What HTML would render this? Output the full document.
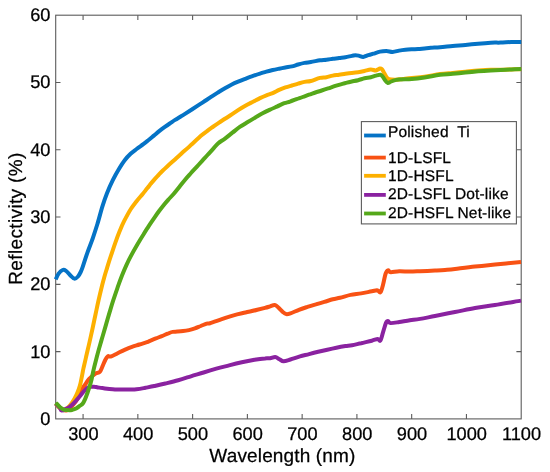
<!DOCTYPE html>
<html><head><meta charset="utf-8"><style>
html,body{margin:0;padding:0;background:#fff;width:550px;height:472px;overflow:hidden}
svg{display:block}
</style></head><body>
<svg width="550" height="472" viewBox="0 0 550 472" text-rendering="geometricPrecision">
<rect width="550" height="472" fill="#fff"/>
<g stroke="#5c5c5c" stroke-width="1.1" fill="none">
<rect x="55.70" y="15.20" width="465.50" height="403.70"/>
<path d="M83.08 418.90 V414.10 M83.08 15.20 V20.00"/>
<path d="M137.85 418.90 V414.10 M137.85 15.20 V20.00"/>
<path d="M192.61 418.90 V414.10 M192.61 15.20 V20.00"/>
<path d="M247.38 418.90 V414.10 M247.38 15.20 V20.00"/>
<path d="M302.14 418.90 V414.10 M302.14 15.20 V20.00"/>
<path d="M356.91 418.90 V414.10 M356.91 15.20 V20.00"/>
<path d="M411.67 418.90 V414.10 M411.67 15.20 V20.00"/>
<path d="M466.44 418.90 V414.10 M466.44 15.20 V20.00"/>
<path d="M55.70 351.62 H60.50 M521.20 351.62 H516.40"/>
<path d="M55.70 284.33 H60.50 M521.20 284.33 H516.40"/>
<path d="M55.70 217.05 H60.50 M521.20 217.05 H516.40"/>
<path d="M55.70 149.77 H60.50 M521.20 149.77 H516.40"/>
<path d="M55.70 82.48 H60.50 M521.20 82.48 H516.40"/>
</g>
<g fill="none" stroke-width="4.0" stroke-linejoin="round" stroke-linecap="butt">
<path d="M55.7 279.4 C56.2 278.4 57.4 275.2 58.6 273.6 C59.8 272.0 61.5 270.5 62.7 270.0 C63.9 269.5 64.8 270.0 66.0 270.8 C67.2 271.6 68.6 273.7 70.0 275.0 C71.4 276.3 73.1 278.4 74.4 278.6 C75.7 278.9 77.0 277.6 78.0 276.5 C79.0 275.4 79.9 273.6 80.7 272.0 C81.5 270.4 81.8 269.7 82.8 266.7 C83.8 263.7 85.3 258.7 87.0 253.8 C88.7 249.0 91.3 242.6 93.0 237.6 C94.7 232.6 95.8 229.2 97.4 224.0 C99.0 218.8 100.9 211.2 102.5 206.1 C104.1 201.0 105.2 197.7 106.9 193.4 C108.6 189.1 110.8 184.1 112.8 180.1 C114.8 176.1 116.8 172.5 118.8 169.2 C120.8 165.9 122.7 162.8 124.7 160.2 C126.7 157.6 128.6 155.7 130.6 153.8 C132.6 151.9 134.5 150.6 136.6 149.0 C138.7 147.4 141.3 145.6 143.3 144.1 C145.3 142.6 146.8 141.4 148.6 140.0 C150.4 138.6 152.1 137.1 153.9 135.6 C155.7 134.1 157.4 132.6 159.2 131.2 C161.0 129.8 162.7 128.5 164.5 127.2 C166.3 125.9 168.0 124.7 169.8 123.5 C171.6 122.3 173.3 121.0 175.1 119.9 C176.9 118.8 178.7 117.8 180.4 116.7 C182.1 115.7 182.5 115.5 185.4 113.6 C188.3 111.7 194.6 107.7 198.1 105.4 C201.6 103.1 204.0 101.6 206.4 100.0 C208.8 98.4 210.6 97.2 212.7 95.8 C214.8 94.4 217.0 93.1 219.1 91.8 C221.2 90.5 223.3 89.2 225.4 88.0 C227.5 86.8 229.7 85.5 231.8 84.5 C233.9 83.5 236.0 82.6 238.1 81.7 C240.2 80.8 242.4 79.9 244.5 79.1 C246.6 78.3 248.2 77.6 250.8 76.7 C253.4 75.8 257.4 74.4 260.0 73.6 C262.6 72.8 264.3 72.2 266.4 71.6 C268.5 71.0 270.6 70.5 272.7 70.0 C274.8 69.5 277.0 69.1 279.1 68.7 C281.2 68.3 283.3 67.9 285.4 67.5 C287.5 67.1 289.7 66.9 291.8 66.4 C293.9 65.9 296.0 65.1 298.1 64.5 C300.2 63.9 302.4 63.3 304.5 62.9 C306.6 62.5 308.2 62.4 310.8 62.0 C313.4 61.6 317.4 60.7 320.0 60.3 C322.6 59.9 324.3 60.0 326.4 59.7 C328.5 59.5 330.6 59.1 332.7 58.8 C334.8 58.5 337.0 58.3 339.1 58.0 C341.2 57.7 343.3 57.6 345.4 57.2 C347.5 56.9 350.1 56.2 351.8 55.9 C353.5 55.6 354.3 55.2 355.6 55.2 C356.9 55.2 358.1 55.6 359.4 55.9 C360.7 56.2 361.7 57.0 363.2 56.9 C364.7 56.8 366.6 55.7 368.3 55.2 C370.0 54.7 371.4 54.3 373.4 53.7 C375.3 53.1 377.8 52.1 380.0 51.6 C382.2 51.1 384.3 51.0 386.4 51.0 C388.5 51.0 390.6 52.0 392.7 51.9 C394.8 51.8 397.0 51.0 399.1 50.6 C401.2 50.2 403.3 49.9 405.4 49.7 C407.5 49.5 409.7 49.4 411.8 49.3 C413.9 49.2 416.0 49.2 418.1 49.1 C420.2 49.0 422.4 48.6 424.5 48.4 C426.6 48.2 428.2 48.0 430.8 47.8 C433.4 47.6 436.4 47.5 440.0 47.2 C443.6 46.9 448.5 46.3 452.7 45.9 C456.9 45.5 461.2 45.4 465.4 45.0 C469.6 44.6 473.9 44.1 478.1 43.7 C482.3 43.3 487.1 42.9 490.8 42.7 C494.6 42.5 497.2 42.7 500.6 42.6 C504.0 42.5 507.8 42.1 511.2 42.0 C514.6 41.9 519.5 41.9 521.2 41.9" stroke="#0573C6"/>
<path d="M55.7 403.5 C56.4 404.2 58.3 406.8 60.0 408.0 C61.7 409.2 64.0 410.8 66.0 410.5 C68.0 410.2 70.0 408.1 72.0 406.0 C74.0 403.9 76.5 400.7 78.0 398.0 C79.5 395.3 80.0 392.3 81.3 390.0 C82.6 387.7 84.3 385.8 85.6 384.0 C86.9 382.2 87.2 380.9 88.9 379.1 C90.6 377.4 93.7 374.7 95.5 373.5 C97.3 372.3 98.6 373.1 99.8 371.9 C101.0 370.7 101.6 368.3 102.6 366.2 C103.5 364.1 104.6 361.2 105.5 359.5 C106.4 357.8 107.3 356.7 107.9 356.2 C108.5 355.7 108.5 356.4 109.1 356.4 C109.7 356.4 109.9 356.9 111.3 356.4 C112.7 355.9 115.0 354.6 117.2 353.5 C119.4 352.4 122.1 350.9 124.6 349.8 C127.1 348.7 129.5 347.7 132.0 346.8 C134.5 345.9 136.9 345.3 139.4 344.5 C141.9 343.7 145.1 342.8 146.9 342.2 C148.7 341.6 148.5 341.4 150.0 340.8 C151.5 340.2 153.9 339.2 155.9 338.4 C157.9 337.6 159.8 336.9 161.8 336.1 C163.8 335.3 165.9 334.4 167.7 333.7 C169.5 333.0 170.9 332.2 172.5 331.9 C174.1 331.5 175.4 331.7 177.2 331.6 C179.0 331.5 181.1 331.4 183.1 331.1 C185.1 330.9 187.0 330.6 189.0 330.1 C191.0 329.7 192.9 329.1 194.9 328.4 C196.9 327.7 198.8 326.8 200.8 326.0 C202.8 325.2 205.2 324.1 206.7 323.6 C208.2 323.1 207.5 323.9 210.0 323.2 C212.5 322.5 217.9 320.5 221.8 319.2 C225.7 317.9 229.7 316.4 233.6 315.3 C237.5 314.2 241.6 313.4 245.5 312.5 C249.4 311.6 254.1 310.6 257.3 309.8 C260.6 309.0 263.0 308.4 265.0 307.9 C267.0 307.4 267.9 307.1 269.5 306.6 C271.1 306.1 273.3 304.7 274.8 304.9 C276.3 305.1 277.3 306.6 278.6 307.8 C279.9 309.0 281.5 310.9 282.8 312.0 C284.1 313.1 284.9 313.9 286.2 314.1 C287.5 314.3 288.3 314.1 290.4 313.4 C292.5 312.7 296.1 310.9 298.9 309.8 C301.7 308.7 304.6 307.8 307.4 306.9 C310.2 306.0 313.0 305.2 315.8 304.4 C318.6 303.5 321.5 302.6 324.3 301.8 C327.1 301.0 330.2 300.0 332.8 299.3 C335.4 298.6 337.0 298.5 340.0 297.8 C343.0 297.1 347.1 295.6 350.6 294.9 C354.1 294.2 357.7 294.0 361.2 293.4 C364.7 292.8 369.1 291.8 371.8 291.3 C374.5 290.8 375.7 290.2 377.1 290.3 C378.6 290.4 379.5 293.2 380.5 292.2 C381.5 291.1 382.4 287.0 383.2 284.0 C384.0 281.0 384.7 276.3 385.5 274.0 C386.3 271.7 387.1 270.7 388.0 270.4 C388.9 270.1 388.9 272.1 390.8 272.2 C392.7 272.3 396.1 271.3 399.3 271.2 C402.5 271.1 406.4 271.6 409.9 271.6 C413.4 271.6 415.9 271.4 420.1 271.2 C424.3 271.0 430.9 270.8 435.0 270.6 C439.1 270.4 441.7 270.3 445.0 270.0 C448.3 269.7 450.0 269.6 455.0 269.0 C460.0 268.4 468.3 267.3 475.0 266.6 C481.7 265.9 487.3 265.4 495.0 264.6 C502.7 263.8 516.7 262.4 521.0 262.0" stroke="#F85214"/>
<path d="M55.7 403.5 C56.4 404.2 58.6 407.0 60.0 408.0 C61.4 409.0 62.6 409.8 64.0 409.7 C65.4 409.6 66.9 408.6 68.3 407.3 C69.7 406.0 71.3 403.9 72.6 401.9 C73.9 399.9 75.1 397.6 76.2 395.3 C77.3 393.1 78.2 390.6 79.0 388.4 C79.8 386.2 80.2 384.6 80.7 382.3 C81.2 380.0 81.8 376.7 82.3 374.3 C82.8 371.9 82.9 370.7 83.5 368.1 C84.1 365.5 85.0 361.8 85.7 358.6 C86.4 355.4 87.2 352.2 87.9 349.0 C88.7 345.8 89.4 342.6 90.2 339.1 C91.0 335.6 91.7 332.4 92.6 328.2 C93.5 324.0 94.6 318.6 95.6 314.0 C96.6 309.4 97.4 305.3 98.5 300.5 C99.6 295.7 101.2 289.1 102.2 285.0 C103.2 280.9 103.9 278.7 104.7 275.8 C105.5 272.9 106.1 271.1 107.1 267.8 C108.1 264.5 109.4 260.2 110.8 256.1 C112.2 252.0 113.7 247.3 115.2 243.1 C116.7 238.9 118.2 234.8 119.7 231.1 C121.2 227.4 122.2 224.9 124.1 221.2 C126.0 217.5 128.9 212.1 131.0 208.8 C133.1 205.5 134.5 204.0 136.4 201.5 C138.3 199.0 140.9 196.2 142.7 194.0 C144.5 191.8 145.8 190.0 147.2 188.3 C148.6 186.6 149.7 185.1 150.9 183.6 C152.2 182.1 153.4 180.6 154.7 179.1 C156.0 177.6 157.5 176.1 158.9 174.6 C160.3 173.1 161.6 171.7 163.1 170.3 C164.6 168.9 165.9 167.7 167.7 166.0 C169.5 164.3 172.0 162.1 174.1 160.2 C176.2 158.3 178.7 156.0 180.4 154.5 C182.1 153.0 182.7 152.4 184.2 151.1 C185.7 149.8 188.0 147.8 189.3 146.6 C190.6 145.4 189.7 146.1 191.8 144.2 C193.9 142.3 199.5 137.2 201.9 135.1 C204.3 133.0 204.6 132.9 206.4 131.6 C208.2 130.2 210.6 128.5 212.7 127.0 C214.8 125.5 217.0 124.0 219.1 122.6 C221.2 121.2 223.3 119.9 225.4 118.5 C227.5 117.1 229.7 115.8 231.8 114.4 C233.9 113.0 236.0 111.6 238.1 110.2 C240.2 108.8 242.4 107.4 244.5 106.2 C246.6 105.0 248.2 104.2 250.8 102.9 C253.4 101.6 257.4 99.4 260.0 98.1 C262.6 96.8 264.3 96.1 266.4 95.3 C268.5 94.5 270.6 94.0 272.7 93.1 C274.8 92.2 277.0 90.9 279.1 89.9 C281.2 89.0 283.3 88.1 285.4 87.4 C287.5 86.7 289.7 86.1 291.8 85.5 C293.9 84.9 296.0 84.2 298.1 83.6 C300.2 83.0 302.4 82.3 304.5 81.9 C306.6 81.5 308.2 81.7 310.8 81.0 C313.4 80.3 317.4 78.5 320.0 77.9 C322.6 77.3 324.3 77.6 326.4 77.2 C328.5 76.8 330.6 76.0 332.7 75.6 C334.8 75.2 337.0 75.1 339.1 74.8 C341.2 74.5 343.3 74.1 345.4 73.8 C347.5 73.5 349.7 73.2 351.8 73.0 C353.9 72.8 356.0 72.6 358.1 72.3 C360.2 72.0 362.4 71.5 364.5 71.0 C366.6 70.5 368.9 69.6 370.8 69.5 C372.7 69.4 374.4 70.6 375.9 70.4 C377.4 70.2 379.0 68.7 380.0 68.5 C381.0 68.3 381.3 68.5 381.9 69.1 C382.5 69.7 383.1 71.0 383.8 72.3 C384.6 73.6 385.5 75.8 386.4 77.0 C387.2 78.2 387.5 78.7 388.9 79.2 C390.3 79.7 392.6 79.8 395.0 79.8 C397.4 79.8 400.2 79.2 403.0 78.9 C405.8 78.6 408.2 78.3 411.8 78.0 C415.4 77.7 419.8 77.5 424.5 76.8 C429.2 76.1 435.3 74.8 440.0 74.1 C444.7 73.4 448.5 73.3 452.7 72.9 C456.9 72.5 461.2 72.1 465.4 71.7 C469.6 71.3 473.9 70.8 478.1 70.5 C482.3 70.2 487.1 69.9 490.8 69.8 C494.6 69.7 497.2 69.8 500.6 69.8 C504.0 69.8 507.8 69.6 511.2 69.5 C514.6 69.4 519.5 69.2 521.2 69.2" stroke="#FDB000"/>
<path d="M55.7 403.5 C56.4 404.2 59.0 406.8 60.0 408.0 C61.0 409.2 60.4 410.5 61.6 410.6 C62.8 410.7 65.3 409.3 67.0 408.4 C68.7 407.5 70.1 406.5 71.6 405.2 C73.1 403.9 74.6 402.2 76.1 400.6 C77.6 399.0 79.3 397.0 80.7 395.3 C82.1 393.6 83.3 391.9 84.5 390.7 C85.7 389.4 86.6 388.4 87.6 387.8 C88.6 387.2 89.5 387.1 90.6 386.9 C91.7 386.7 92.8 386.6 94.0 386.7 C95.2 386.8 96.4 387.2 97.8 387.4 C99.2 387.6 99.9 387.8 102.4 388.1 C104.9 388.4 109.1 389.1 112.8 389.3 C116.5 389.6 120.6 389.6 124.6 389.6 C128.5 389.6 133.0 389.6 136.5 389.3 C140.0 389.0 142.4 388.4 145.4 387.8 C148.4 387.2 151.0 386.7 154.3 386.0 C157.6 385.3 161.4 384.5 165.4 383.5 C169.4 382.5 173.9 381.4 178.2 380.2 C182.4 379.0 186.7 377.6 190.9 376.3 C195.1 375.0 199.4 373.8 203.6 372.5 C207.8 371.2 212.1 369.9 216.3 368.7 C220.6 367.5 224.8 366.5 229.1 365.4 C233.3 364.3 237.6 363.2 241.8 362.3 C246.0 361.4 250.6 360.5 254.5 359.8 C258.4 359.1 262.4 358.6 265.0 358.4 C267.6 358.1 268.4 358.5 270.1 358.3 C271.8 358.1 273.6 356.9 275.2 357.0 C276.8 357.1 278.0 358.5 279.4 359.2 C280.8 359.9 281.8 361.1 283.6 361.2 C285.4 361.2 287.7 360.3 290.4 359.5 C293.1 358.7 296.9 357.3 300.0 356.4 C303.1 355.5 306.1 354.9 309.1 354.1 C312.1 353.3 315.2 352.5 318.2 351.8 C321.2 351.1 324.3 350.4 327.3 349.7 C330.3 349.0 333.4 348.3 336.4 347.7 C339.4 347.1 342.9 346.5 345.5 346.1 C348.1 345.7 349.4 345.7 352.0 345.2 C354.6 344.7 357.9 343.9 361.2 343.2 C364.5 342.4 369.1 341.4 371.8 340.7 C374.6 340.0 376.3 339.0 377.7 339.0 C379.1 339.0 379.5 341.7 380.4 340.6 C381.3 339.5 382.1 335.3 383.0 332.4 C383.9 329.5 385.1 325.0 385.9 323.1 C386.7 321.2 387.2 321.0 388.0 321.0 C388.8 321.0 388.5 322.9 390.4 323.1 C392.3 323.3 396.1 322.5 399.3 322.0 C402.6 321.5 406.4 320.8 409.9 320.3 C413.4 319.8 415.9 319.6 420.1 318.9 C424.3 318.2 429.2 317.1 435.0 316.0 C440.8 314.9 448.3 313.3 455.0 312.0 C461.7 310.7 468.3 309.2 475.0 308.0 C481.7 306.8 487.3 306.2 495.0 305.0 C502.7 303.8 516.7 301.3 521.0 300.6" stroke="#8A22A0"/>
<path d="M55.7 402.8 C56.0 403.1 56.8 403.8 57.5 404.5 C58.2 405.2 59.0 406.3 60.1 407.2 C61.2 408.1 62.6 409.1 63.9 409.6 C65.2 410.1 66.3 410.1 67.7 410.1 C69.1 410.2 70.9 410.1 72.3 409.9 C73.7 409.6 74.8 409.3 76.1 408.6 C77.4 407.9 78.8 406.6 80.0 405.7 C81.2 404.8 82.1 404.4 83.0 403.2 C83.9 402.0 84.5 400.4 85.3 398.6 C86.1 396.8 86.8 394.7 87.6 392.5 C88.4 390.3 89.3 387.6 89.9 385.5 C90.5 383.4 91.0 382.1 91.4 380.2 C91.9 378.3 92.2 376.3 92.6 374.3 C93.0 372.3 93.4 370.7 94.0 368.1 C94.6 365.5 95.6 361.7 96.4 358.6 C97.2 355.5 97.9 352.7 98.8 349.5 C99.7 346.3 100.8 342.7 101.7 339.4 C102.7 336.1 103.3 334.0 104.5 329.9 C105.7 325.8 107.4 319.6 108.9 314.6 C110.4 309.7 111.7 305.1 113.3 300.2 C114.9 295.2 117.1 289.0 118.5 284.9 C119.9 280.8 120.6 279.0 121.9 275.7 C123.2 272.4 124.7 268.8 126.3 265.3 C127.9 261.8 129.6 258.4 131.5 254.9 C133.4 251.4 135.5 247.7 137.5 244.3 C139.5 240.9 141.9 237.0 143.6 234.3 C145.2 231.6 146.1 230.2 147.4 228.2 C148.7 226.2 149.9 224.3 151.2 222.4 C152.5 220.5 153.7 218.7 155.0 216.8 C156.3 214.9 157.9 212.7 159.3 210.8 C160.7 208.9 162.1 207.1 163.6 205.2 C165.1 203.3 166.7 201.5 168.4 199.6 C170.1 197.7 172.0 195.8 173.8 193.7 C175.7 191.5 177.6 189.1 179.5 186.7 C181.4 184.3 183.4 181.7 185.3 179.4 C187.2 177.1 189.1 175.1 191.0 173.0 C192.9 170.9 194.8 169.0 196.7 166.9 C198.6 164.8 200.6 162.6 202.4 160.6 C204.2 158.6 205.8 156.9 207.5 155.0 C209.2 153.1 211.2 151.0 212.9 149.1 C214.7 147.2 216.0 145.2 218.0 143.4 C220.0 141.7 222.6 140.4 225.0 138.6 C227.4 136.8 229.9 134.6 232.4 132.7 C234.9 130.8 237.3 128.6 239.8 126.9 C242.3 125.2 244.8 123.8 247.3 122.3 C249.8 120.8 252.2 119.4 254.7 117.9 C257.2 116.5 259.6 114.9 262.1 113.6 C264.6 112.3 267.0 111.1 269.5 109.9 C272.0 108.7 274.4 107.7 276.9 106.6 C279.4 105.5 282.1 104.0 284.3 103.2 C286.5 102.4 288.0 102.3 290.0 101.6 C292.0 100.9 294.3 100.0 296.4 99.2 C298.5 98.4 300.6 97.8 302.7 97.0 C304.8 96.2 306.9 95.5 309.0 94.7 C311.1 94.0 313.3 93.2 315.4 92.5 C317.5 91.8 319.6 91.2 321.7 90.5 C323.8 89.8 326.0 89.1 328.1 88.4 C330.2 87.7 332.4 86.9 334.5 86.2 C336.6 85.5 338.7 84.9 340.8 84.3 C342.9 83.7 345.2 83.1 347.0 82.6 C348.8 82.1 349.9 81.9 351.8 81.5 C353.7 81.1 356.0 80.7 358.1 80.2 C360.2 79.7 362.4 78.8 364.5 78.3 C366.6 77.8 368.9 77.8 370.8 77.3 C372.7 76.8 374.3 76.0 375.9 75.6 C377.5 75.2 379.4 74.6 380.5 74.8 C381.6 75.0 381.9 75.6 382.7 76.6 C383.5 77.5 384.5 79.5 385.3 80.5 C386.1 81.5 386.9 82.7 387.7 82.9 C388.5 83.2 389.4 82.3 390.2 82.0 C391.0 81.7 391.2 81.3 392.7 80.9 C394.2 80.5 395.9 79.9 399.1 79.6 C402.3 79.3 407.6 79.4 411.8 79.1 C416.0 78.8 419.8 78.3 424.5 77.6 C429.2 76.9 435.3 75.3 440.0 74.7 C444.7 74.1 448.5 74.2 452.7 73.8 C456.9 73.4 461.2 73.0 465.4 72.6 C469.6 72.2 473.9 71.7 478.1 71.3 C482.3 70.9 487.1 70.6 490.8 70.4 C494.6 70.2 497.2 70.2 500.6 70.0 C504.0 69.8 507.8 69.6 511.2 69.4 C514.6 69.2 519.5 69.0 521.2 68.9" stroke="#55A81A"/>
</g>
<g font-family="Liberation Sans, Arial, Helvetica, sans-serif" fill="#000" stroke="#000" stroke-width="0.25">
<g font-size="18.2" text-anchor="middle">
<text x="83.38" y="439.80">300</text>
<text x="138.15" y="439.80">400</text>
<text x="192.91" y="439.80">500</text>
<text x="247.68" y="439.80">600</text>
<text x="302.44" y="439.80">700</text>
<text x="357.21" y="439.80">800</text>
<text x="411.97" y="439.80">900</text>
<text x="466.74" y="439.80">1000</text>
<text x="521.50" y="439.80">1100</text>
</g>
<g font-size="18.2" text-anchor="end">
<text x="50.40" y="424.80">0</text>
<text x="50.40" y="357.52">10</text>
<text x="50.40" y="290.23">20</text>
<text x="50.40" y="222.95">30</text>
<text x="50.40" y="155.67">40</text>
<text x="50.40" y="88.38">50</text>
<text x="50.40" y="21.10">60</text>
</g>
<text x="282.4" y="462.2" font-size="19" letter-spacing="0.14" text-anchor="middle">Wavelength (nm)</text>
<text transform="translate(22.3 218.5) rotate(-90)" font-size="19" letter-spacing="0.36" text-anchor="middle">Reflectivity (%)</text>
</g>
<rect x="361.40" y="121.60" width="155.00" height="102.30" fill="#fff" stroke="#5c5c5c" stroke-width="1.1"/>
<g font-family="Liberation Sans, Arial, Helvetica, sans-serif" font-size="15.50" letter-spacing="0.15" fill="#000">
<path d="M364.1 135.50 H385.8" stroke="#0573C6" stroke-width="3.8"/>
<text x="388.0" y="137.00" stroke="#000" stroke-width="0.25">Polished&#160; Ti</text>
<path d="M364.1 157.60 H385.8" stroke="#F85214" stroke-width="3.8"/>
<text x="388.0" y="162.70" stroke="#000" stroke-width="0.25">1D-LSFL</text>
<path d="M364.1 175.80 H385.8" stroke="#FDB000" stroke-width="3.8"/>
<text x="388.0" y="180.80" stroke="#000" stroke-width="0.25">1D-HSFL</text>
<path d="M364.1 194.90 H385.8" stroke="#8A22A0" stroke-width="3.8"/>
<text x="388.0" y="199.20" stroke="#000" stroke-width="0.25">2D-LSFL Dot-like</text>
<path d="M364.1 213.50 H385.8" stroke="#55A81A" stroke-width="3.8"/>
<text x="388.0" y="218.30" stroke="#000" stroke-width="0.25">2D-HSFL Net-like</text>
</g>
</svg>
</body></html>
